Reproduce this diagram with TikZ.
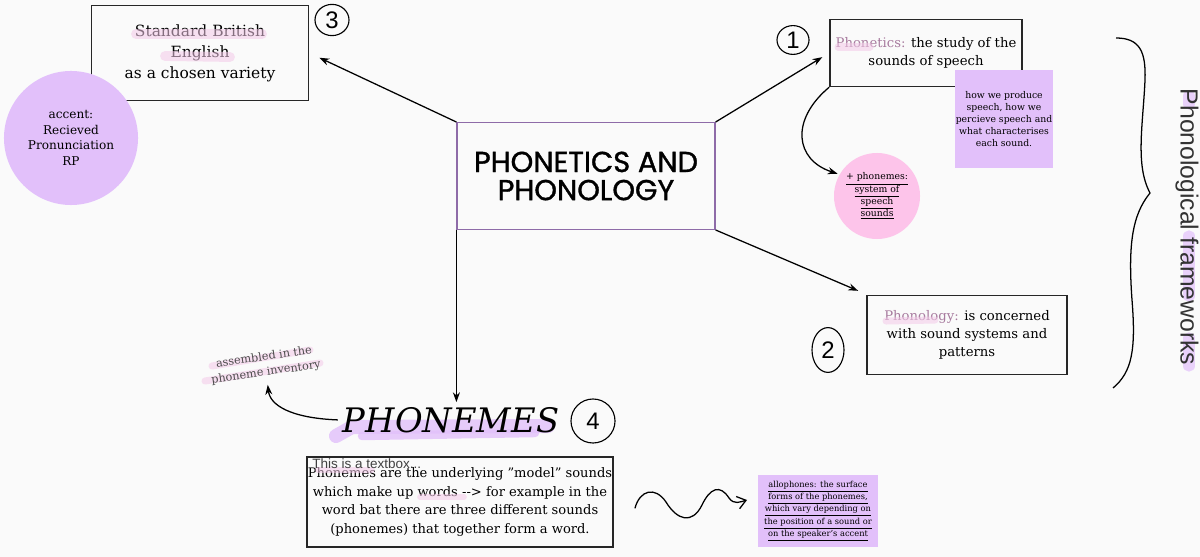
\documentclass[tikz,border=0pt]{standalone}
\usepackage{fontspec}
\setmainfont{DejaVu Serif}
\setsansfont{Liberation Sans}
\newfontfamily\titlefont{Poppins}[FakeBold=1.2]
\usetikzlibrary{arrows.meta,positioning,shapes.geometric}

\definecolor{paper}{HTML}{FAFAFA}
\definecolor{lilac}{HTML}{E2C0FA}
\definecolor{rosy}{HTML}{FDC4EA}
\definecolor{hilite}{HTML}{F3C9E8}
\definecolor{framepurple}{HTML}{8E6BA8}
\definecolor{inkpink}{HTML}{A77A9E}

\begin{document}
\begin{tikzpicture}[x=0.025cm,y=-0.025cm,
    box/.style={draw=black!85,line width=1.2pt,fill=paper,align=center,inner sep=0pt},
    note/.style={fill=lilac,align=center,inner sep=0pt,font=\fontsize{6.6}{8.6}\selectfont},
    numring/.style={draw,ellipse,line width=0.8pt,inner sep=0pt,font=\sffamily\fontsize{17}{17}\selectfont},
    link/.style={-{Stealth[length=7pt,width=5pt]},line width=0.9pt},
    marker/.style={line cap=round,opacity=0.55}]
  \useasboundingbox[fill=paper] (0,0) rectangle (1200,557);

  % main topic
  \node[box,draw=framepurple,line width=0.8pt,minimum width=6.45cm,minimum height=2.67cm,
        font=\titlefont\fontsize{20.5}{20}\selectfont] (title) at (586,176) {PHONETICS AND\\PHONOLOGY};

  % (3) standard variety
  \node[box,minimum width=5.42cm,minimum height=2.37cm,font=\fontsize{11}{15}\selectfont] (sbe) at (200,53)
       {Standard British\\English\\as a chosen variety};
  \draw[hilite,marker,line width=7pt] (136,34) -- (262,34);
  \draw[hilite,marker,line width=7pt] (165,56) -- (230,57);
  \node[numring,minimum width=0.85cm,minimum height=0.78cm] (num3) at (332,20) {3};
  \node[circle,fill=lilac,minimum size=3.35cm,align=center,inner sep=0pt,
        font=\fontsize{8.6}{11}\selectfont] (accent) at (71,138) {accent:\\Recieved\\Pronunciation\\RP};

  % (1) phonetics
  \node[box,minimum width=4.8cm,minimum height=1.67cm,font=\fontsize{9.4}{13}\selectfont] (phonetics) at (926,53)
       {\textcolor{inkpink}{Phonetics:} the study of the\\sounds of speech};
  \draw[hilite,marker,line width=5pt] (838,47) -- (870,47);
  \node[numring,minimum width=0.8cm,minimum height=0.72cm] (num1) at (793,40) {1};
  \node[note,minimum size=2.45cm] (produce) at (1004,119)
       {how we produce\\speech, how we\\percieve speech and\\what characterises\\each sound.};
  \node[circle,fill=rosy,minimum size=2.15cm,align=center,inner sep=0pt,
        font=\fontsize{6.6}{8.6}\selectfont] (speechsounds) at (877,196)
       {\underline{+ phonemes:}\\\underline{system of}\\\underline{speech}\\\underline{sounds}};

  % (2) phonology
  \node[box,minimum width=5cm,minimum height=1.97cm,font=\fontsize{9.4}{13}\selectfont] (phonology) at (967,335)
       {\textcolor{inkpink}{Phonology:} is concerned\\with sound systems and\\patterns};
  \draw[hilite,marker,line width=5pt] (886,321) -- (935,320);
  \node[numring,minimum width=0.8cm,minimum height=1.12cm] (num2) at (828,350) {2};

  % brace and side label
  \draw[line width=0.9pt] (1116,38) .. controls (1140,38) and (1146,52) .. (1145,80)
      .. controls (1143,125) and (1135,165) .. (1150,193)
      .. controls (1132,215) and (1128,245) .. (1132,300)
      .. controls (1136,350) and (1132,372) .. (1113,388);
  \draw[lilac,marker,opacity=0.7,line width=8pt] (1189,96) -- (1189,104);
  \draw[lilac,marker,opacity=0.7,line width=8pt] (1189,236) -- (1189,296);
  \draw[lilac,marker,opacity=0.7,line width=8pt] (1189,338) -- (1189,366);
  \node[rotate=-90,font=\sffamily\fontsize{17.6}{17.6}\selectfont,text=black!80] (frameworks) at (1187,227)
       {Phonological frameworks};

  % (4) phonemes
  \draw[lilac,marker,opacity=0.8,line width=10pt] (336,436) -- (352,427) -- (548,426);
  \draw[lilac,marker,opacity=0.8,line width=6pt] (362,436) -- (535,433);
  \node[font=\itshape\fontsize{24}{24}\selectfont,inner sep=2pt] (phonemes) at (451,420) {PHONEMES};
  \node[numring,minimum width=1.1cm,minimum height=1.1cm] (num4) at (593,421) {4};
  \draw[hilite,marker,line width=5pt] (212,366) -- (310,350);
  \draw[hilite,marker,line width=5pt] (205,381) -- (320,363);
  \node[rotate=8,align=center,text=black!70,font=\fontsize{8}{10.8}\selectfont] (assembled) at (265,365)
       {assembled in the\\phoneme inventory};

  \node[box,minimum width=7.65cm,minimum height=2.25cm,font=\fontsize{9.3}{13.4}\selectfont] (textbox) at (460,502)
       {Phonemes are the underlying "model" sounds\\which make up words {-}{-}> for example in the\\word bat there are three different sounds\\(phonemes) that together form a word.};
  \draw[hilite,marker,line width=4pt] (318,470) -- (372,470);
  \draw[hilite,marker,line width=4pt] (420,497) -- (464,497);
  \node[anchor=north west,inner sep=0pt,font=\sffamily\fontsize{9.6}{10}\selectfont,text=black!75] (hint) at (312,458)
       {This is a textbox...};
  \node[note,minimum width=3cm,minimum height=1.8cm,font=\fontsize{5.9}{8.8}\selectfont] (allophones) at (818,511)
       {\underline{allophones: the surface}\\\underline{forms of the phonemes,}\\\underline{which vary depending on}\\\underline{the position of a sound or}\\\underline{on the speaker's accent}};

  % connectors
  \draw[link,shorten >=0.28cm] (title.north west) -- (sbe.east);
  \draw[link,shorten >=0.2cm] (title.north east) -- (phonetics.west);
  \draw[link,shorten >=0.25cm] (title.south east) -- (phonology.158);
  \draw[link,shorten >=0.05cm] (title.south west) -- (title.south west |- phonemes.north);
  \draw[link,shorten >=0.05cm] (phonetics.south west) .. controls (790,120) and (795,160) .. (speechsounds.150);
  \draw[link,shorten <=0.05cm,shorten >=0.05cm] (phonemes.west) .. controls (290,418) and (270,405) .. (assembled.south);
  \coordinate (wavein) at (635,508);
  \coordinate (waveout) at (747,500);
  \draw[-{Straight Barb[length=6pt,width=9pt]},line width=0.9pt,line cap=round] (wavein)
      .. controls (640,490) and (655,486) .. (666,502)
      .. controls (677,520) and (692,525) .. (702,505)
      .. controls (710,488) and (720,484) .. (729,498)
      .. controls (734,505) and (740,502) .. (waveout);
\end{tikzpicture}
\end{document}
